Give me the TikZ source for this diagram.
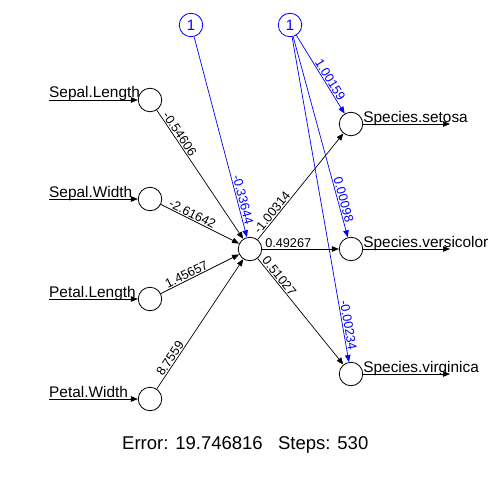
\documentclass[tikz,border=0pt]{standalone}
\usepackage{fontspec}
\setmainfont{Liberation Sans}
\usetikzlibrary{arrows.meta}

\begin{document}
\begin{tikzpicture}[
  x=1pt, y=-1pt,
  neuron/.style={draw, circle, line width=0.8pt, minimum size=23.5pt, inner sep=0pt},
  bias/.style={neuron, draw=blue, text=blue, font=\fontsize{15}{17}\selectfont},
  arr/.style={-{Triangle[length=7pt,width=5.5pt]}, line width=0.7pt},
  barr/.style={arr, blue},
  wlabel/.style={sloped, above, inner sep=1pt, font=\fontsize{12.7}{14}\selectfont},
  inlabel/.style={anchor=base west, inner sep=0pt, font=\fontsize{15.4}{17}\selectfont}
]
  \useasboundingbox (0,0) rectangle (500,500);

  % neurons
  \node[neuron] (SL) at (150,100) {};
  \node[neuron] (SW) at (150,199) {};
  \node[neuron] (PL) at (150,299) {};
  \node[neuron] (PW) at (150,399) {};
  \node[neuron] (H) at (250,249) {};
  \node[neuron] (set) at (351,124) {};
  \node[neuron] (ver) at (351,249) {};
  \node[neuron] (vir) at (351,374) {};
  \node[bias] (B1) at (191,25) {1};
  \node[bias] (B2) at (290,25) {1};

  % inputs
  \coordinate (SLin) at (49,100);
  \coordinate (SWin) at (49,199);
  \coordinate (PLin) at (49,299);
  \coordinate (PWin) at (49,399);
  \node[inlabel] (SLtxt) at ([yshift=2pt]SLin) {Sepal.Length};
  \node[inlabel] (SWtxt) at ([yshift=2pt]SWin) {Sepal.Width};
  \node[inlabel] (PLtxt) at ([yshift=2pt]PLin) {Petal.Length};
  \node[inlabel] (PWtxt) at ([yshift=2pt]PWin) {Petal.Width};
  \draw[arr] (SLin) -- (SL);
  \draw[arr] (SWin) -- (SW);
  \draw[arr] (PLin) -- (PL);
  \draw[arr] (PWin) -- (PW);

  % outputs
  \coordinate (setout) at (450,124);
  \coordinate (verout) at (450,249);
  \coordinate (virout) at (450,374);
  \node[inlabel] (settxt) at ([yshift=2pt]set.east) {Species.setosa};
  \node[inlabel] (vertxt) at ([yshift=2pt]ver.east) {Species.versicolor};
  \node[inlabel] (virtxt) at ([yshift=2pt]vir.east) {Species.virginica};
  \draw[arr] (set) -- (setout);
  \draw[arr] (ver) -- (verout);
  \draw[arr] (vir) -- (virout);

  % weights
  \draw[arr] (SL) -- node[wlabel, pos=0.21]{-0.54606} (H);
  \draw[arr] (SW) -- node[wlabel, pos=0.37]{-2.61642} (H);
  \draw[arr] (PL) -- node[wlabel, pos=0.36]{1.45657} (H);
  \draw[arr] (PW) -- node[wlabel, pos=0.21]{8.7559} (H);
  \draw[arr] (H) -- node[wlabel, pos=0.22]{-1.00314} (set);
  \draw[arr] (H) -- node[wlabel, pos=0.34]{0.49267} (ver);
  \draw[arr] (H) -- node[wlabel, pos=0.2]{0.51027} (vir);

  % bias weights
  \draw[barr] (B1) -- node[wlabel, text=blue, pos=0.82]{-0.33644} (H);
  \draw[barr] (B2) -- node[wlabel, text=blue, pos=0.6]{1.00159} (set);
  \draw[barr] (B2) -- node[wlabel, text=blue, pos=0.82]{0.00098} (ver);
  \draw[barr] (B2) -- node[wlabel, text=blue, pos=0.89]{-0.00234} (vir);

  \node[anchor=base west, inner sep=0pt, font=\fontsize{18.5}{21}\selectfont] (err)
    at (122,449) {Error: 19.746816~~~Steps: 530};
\end{tikzpicture}
\end{document}
